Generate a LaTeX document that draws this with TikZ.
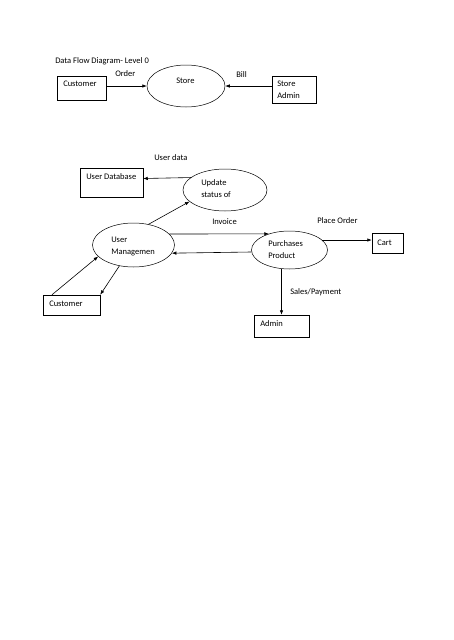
\documentclass[tikz,border=0pt]{standalone}
\usepackage{fontspec}
\setmainfont{Carlito}
\usepackage{tikz}
\usetikzlibrary{positioning,arrows.meta,shapes.geometric}

\tikzset{
  box/.style={draw, rectangle, inner sep=0pt},
  proc/.style={draw, ellipse, inner sep=0pt},
  txt/.style={anchor=base west, inner sep=0pt, align=left},
  flow/.style={-{Latex[length=4.5pt,width=3.5pt]}, line width=0.6pt}
}

\begin{document}
\begin{tikzpicture}[x=1pt,y=-1pt,font=\fontsize{8.5}{12}\selectfont,line width=0.5pt]
\useasboundingbox (0,0) rectangle (453,640);

% level 0
\node[txt] (title) at (55,63) {Data Flow Diagram- Level 0};
\node[box, minimum width=49, minimum height=24] (cust0) at (81.5,88) {};
\node[proc, minimum width=78, minimum height=42] (store) at (186,86) {};
\node[box, minimum width=44, minimum height=27] (sadmin) at (294,89.5) {};
\node[txt] (t-cust0) at (63,86) {Customer};
\node[txt] (t-store) at (176,83) {Store};
\node[txt] (t-sadmin) at (277,98) {Store\\Admin};
\node[txt] (order) at (115,76) {Order};
\node[txt] (bill) at (236,77) {Bill};

\draw[flow] (cust0.east |- store.west) -- (store.west);
\draw[flow] (sadmin.west |- store.east) -- (store.east);

% level 1
\node[box, minimum width=63, minimum height=29] (udb) at (111.5,182.5) {};
\node[proc, minimum width=84, minimum height=42] (upd) at (225,190) {};
\node[proc, minimum width=82, minimum height=44] (um) at (133.5,245) {};
\node[proc, minimum width=76, minimum height=38] (pp) at (289.5,250) {};
\node[box, minimum width=31, minimum height=20] (cart) at (387.5,243) {};
\node[box, minimum width=55, minimum height=22] (admin) at (281.5,326) {};
\node[box, minimum width=57, minimum height=20] (cust1) at (71.5,305) {};

\node[txt] (t-udb) at (86,179) {User Database};
\node[txt] (t-upd) at (201,197) {Update\\status of};
\node[txt] (t-um) at (111,254) {User\\Managemen};
\node[txt] (t-pp) at (268,258) {Purchases\\Product};
\node[txt] (t-cart) at (377,245) {Cart};
\node[txt] (t-admin) at (260,326) {Admin};
\node[txt] (t-cust1) at (49,306) {Customer};

\node[txt] (udata) at (154,160) {User data};
\node[txt] (invoice) at (212,224) {Invoice};
\node[txt] (porder) at (317,223) {Place Order};
\node[txt] (sales) at (290,294) {Sales/Payment};

\draw[flow] (upd.160) -- ([yshift=4pt]udb.east);
\draw[flow] (um.54) -- (upd.198);
\draw[flow] (um.17) -- (pp.142);
\draw[flow] (pp.183) -- (um.-12);
\draw[flow] (pp.17) -- (pp.17 -| cart.west);
\draw[flow] (pp.south -| admin.north) -- (admin.north);
\draw[flow] ([xshift=-19.5pt]cust1.north) -- (um.198);
\draw[flow] (um.236) -- (cust1.north east);
\end{tikzpicture}
\end{document}
